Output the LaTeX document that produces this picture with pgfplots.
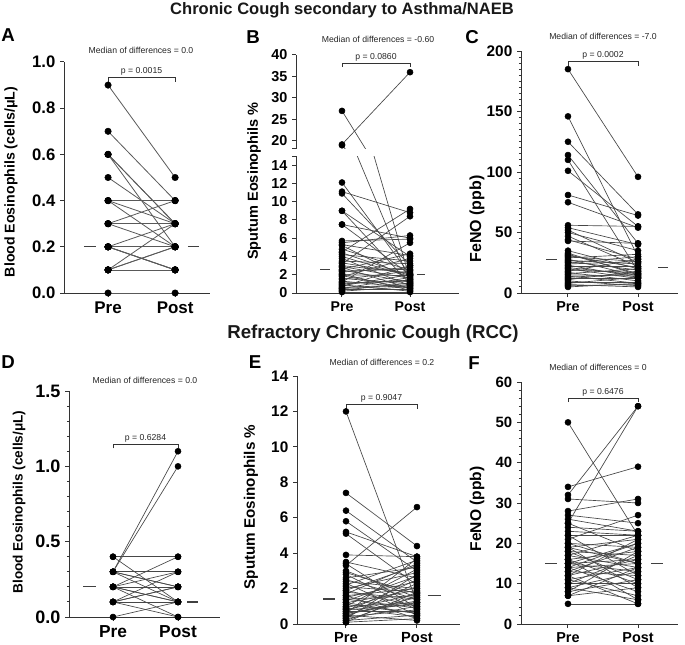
\documentclass[border=0pt]{standalone}
\usepackage{pgfplots}
\pgfplotsset{compat=1.18}
\usepackage{pgfplotstable}
\usepackage{fontspec}
\setmainfont{Liberation Sans}
\newcommand\fs[1]{\fontsize{#1}{#1}\selectfont}

\pgfplotstableread{
pre post
0.9 0.5
0.7 0.4
0.6 0.3
0.6 0.2
0.6 0.3
0.5 0.3
0.4 0.4
0.4 0.3
0.4 0.2
0.3 0.4
0.3 0.3
0.3 0.2
0.3 0.3
0.2 0.2
0.2 0.1
0.2 0.1
0.2 0.2
0.2 0.3
0.1 0.2
0.1 0.3
0.1 0.1
0.1 0.1
0.2 0.2
0.0 0.0
0.1 0.2
0.2 0.1
}\tabA

\pgfplotstableread{
pre post
27 1.5
19.2 36
19 1.2
12.1 2.0
11.1 8.8
10.9 3.0
9.0 4.0
9.0 1.0
7.5 6.0
7.5 2.0
5.7 5.9
5.5 6.3
5.2 1.5
4.8 2.5
4.5 9.2
4.2 3.5
4.0 1.8
3.8 0.8
3.5 3.2
3.2 8.4
3.0 2.2
2.9 1.6
2.8 0.5
2.6 4.3
2.5 1.2
2.3 2.8
2.1 0.3
2.0 1.9
1.8 3.8
1.6 1.0
1.5 2.4
1.3 0.6
1.2 5.5
1.0 1.4
0.9 0.2
0.8 2.0
0.7 3.0
0.6 0.9
0.5 1.7
0.4 0.4
0.3 1.1
0.2 0.7
0.1 0.1
3.3 2.1
4.4 1.9
2.4 2.6
1.1 1.3
5.3 4.1
0.5 0.8
1.9 0.5
}\tabB

\pgfplotstableread{
pre post
185 96
146 30
125 65
114 41
110 18
101 55
81 64
75 54
56 55
54 40
52 25
50 35
47 22
44 28
43 41
35 20
32 16
30 26
29 32
28 14
27 24
26 19
25 30
23 13
22 22
21 15
20 12
19 17
18 28
17 10
16 20
15 14
14 8
13 16
12 12
11 18
10 6
9 9
8 13
7 5
6 7
5 8
24 26
31 21
33 15
}\tabC

\pgfplotstableread{
pre post
0.3 1.1
0.3 1.0
0.4 0.4
0.4 0.1
0.3 0.3
0.3 0.2
0.3 0.1
0.2 0.4
0.2 0.2
0.2 0.2
0.2 0.1
0.2 0.0
0.2 0.3
0.1 0.1
0.1 0.1
0.1 0.2
0.1 0.3
0.1 0.0
0.0 0.1
0.2 0.1
0.1 0.2
0.3 0.2
}\tabD

\pgfplotstableread{
pre post
12.0 1.2
7.4 4.4
6.4 3.5
5.8 3.0
5.2 3.8
5.1 2.2
3.9 3.8
3.5 2.6
3.3 6.6
3.0 1.5
2.8 0.8
2.6 3.2
2.4 2.0
2.3 0.5
2.2 3.6
2.1 1.8
2.0 2.9
1.9 1.0
1.8 1.4
1.7 3.4
1.6 0.3
1.5 2.4
1.4 1.6
1.4 0.9
1.3 2.7
1.2 1.9
1.1 0.6
1.0 3.1
1.0 1.2
0.9 2.1
0.9 0.4
0.8 1.7
0.8 1.1
0.7 2.5
0.7 0.7
0.6 1.3
0.6 3.7
0.5 0.2
0.5 1.5
0.4 2.3
0.4 0.8
0.3 1.0
0.3 2.8
0.2 0.5
0.2 1.6
0.1 0.3
0.1 1.8
2.5 1.4
1.6 2.0
3.4 0.9
2.9 1.7
1.9 3.3
1.2 0.6
0.6 1.2
}\tabE

\pgfplotstableread{
pre post
50 22
34 39
32 54
25 54
31 30
28 31
27 25
25 18
24 23
23 22
22 22
22 12
21 27
20 15
20 19
19 9
19 21
18 17
18 11
17 22
17 14
16 6
16 18
15 16
15 13
15 20
14 15
14 8
13 19
13 12
12 21
12 16
11 14
11 7
10 17
10 10
9 13
9 6
8 18
8 11
7 9
7 14
5 5
26 23
14 20
12 5
16 10
19 15
}\tabF

\pgfplotsset{
  pp/.style={
    scale only axis, anchor=south west,
    axis x line*=bottom, axis y line*=left,
    axis line style={-, draw=black!80, line width=0.75pt},
    tick style={draw=black!80, line width=0.75pt},
    tick align=outside, major tick length=3pt, minor tick length=1.6pt,
    xtick={0,1}, xticklabels={Pre,Post},
    clip=false,
  },
  pairs/.style={-, draw=black!72, line width=0.5pt, no markers,
    quiver={u=1, v=\thisrow{post}-\thisrow{pre}}},
  dots/.style={only marks, mark=*, mark size=2.25pt, draw=black, fill=black},
  med/.style={draw=black!75, line width=0.9pt, no markers},
}
\tikzset{
  brk/.style={draw=black!80, line width=0.5pt},
  ptxt/.style={font=\fs{6.5}, text=black!85, anchor=south, inner sep=1.2pt},
}

\begin{document}
\begin{tikzpicture}
\useasboundingbox (0,0) rectangle (513.75pt,483pt);

% titles
\node[font=\bfseries\fs{12.4}, text=black!90] at (256.5pt,475.4pt) {Chronic Cough secondary to Asthma/NAEB};
\node[font=\bfseries\fs{14}, text=black!90] at (279.75pt,232.9pt) {Refractory Chronic Cough (RCC)};

% panel letters
\node[font=\bfseries\fs{14}] at (6pt,456.75pt) {A};
\node[font=\bfseries\fs{14}] at (189.75pt,455.25pt) {B};
\node[font=\bfseries\fs{14}] at (354pt,455.25pt) {C};
\node[font=\bfseries\fs{14}] at (6pt,211.5pt) {D};
\node[font=\bfseries\fs{14}] at (191.25pt,211.5pt) {E};
\node[font=\bfseries\fs{14}] at (355.5pt,210.75pt) {F};

% y labels
\node[font=\bfseries\fs{10.6}, rotate=90] at (8.25pt,346.5pt) {Blood Eosinophils (cells/μL)};
\node[font=\bfseries\fs{10.9}, rotate=90] at (190.5pt,347.25pt) {Sputum Eosinophils \%};
\node[font=\bfseries\fs{12}, rotate=90] at (357.75pt,318.75pt) {FeNO (ppb)};
\node[font=\bfseries\fs{10.2}, rotate=90] at (14.25pt,106.5pt) {Blood Eosinophils (cells/μL)};
\node[font=\bfseries\fs{11.4}, rotate=90] at (188.25pt,102.75pt) {Sputum Eosinophils \%};
\node[font=\bfseries\fs{11.7}, rotate=90] at (357.75pt,101.25pt) {FeNO (ppb)};

% median of differences
\node[font=\fs{6.5}, text=black!85] at (105.75pt,445.5pt) {Median of differences = 0.0};
\node[font=\fs{6.5}, text=black!85] at (283.5pt,453.75pt) {Median of differences = -0.60};
\node[font=\fs{6.5}, text=black!85] at (452.25pt,456pt) {Median of differences = -7.0};
\node[font=\fs{6.5}, text=black!85] at (108.75pt,198pt) {Median of differences = 0.0};
\node[font=\fs{6.5}, text=black!85] at (286.5pt,211.5pt) {Median of differences = 0.2};
\node[font=\fs{6.5}, text=black!85] at (448.5pt,207.75pt) {Median of differences = 0};

% panel B significance bracket
\draw[brk] (256.5pt,433.1pt) -- (256.5pt,435.75pt) -- (307.5pt,435.75pt) -- (307.5pt,433.1pt);
\node[ptxt] at (282pt,435.75pt) {p = 0.0860};

% ---------- A ----------
\begin{axis}[pp, at={(48pt,263.25pt)}, width=109.5pt, height=173.25pt,
  xmin=-0.657, xmax=1.52, ymin=0, ymax=1,
  ytick={0,0.2,0.4,0.6,0.8,1}, yticklabels={0.0,0.2,0.4,0.6,0.8,1.0},
  yticklabel style={font=\bfseries\fs{12.5}},
  xticklabel style={font=\bfseries\fs{12.7}}]
\addplot[pairs, line width=0.6pt, draw=black!65] table[x expr=0, y=pre] {\tabA};
\addplot[dots, mark size=2.4pt] table[x expr=0, y=pre] {\tabA};
\addplot[dots, mark size=2.4pt] table[x expr=1, y=post] {\tabA};
\addplot[med] coordinates {(-0.36,0.2) (-0.18,0.2)};
\addplot[med] coordinates {(1.19,0.2) (1.36,0.2)};
\draw[brk] (axis cs:0,0.915) -- (axis cs:0,0.935) -- (axis cs:1,0.935) -- (axis cs:1,0.915);
\node[ptxt] at (axis cs:0.5,0.935) {p = 0.0015};
\end{axis}

% ---------- B lower ----------
\begin{axis}[pp, at={(222pt,263.25pt)}, width=122.25pt, height=102.75pt,
  clip=true,
  xmin=-0.676, xmax=1.72, ymin=0, ymax=15,
  ytick={0,2,4,6,8,10,12,14}, yticklabels={0,2,4,6,8,10,12,14},
  extra y ticks={15}, extra y tick labels={},
  yticklabel style={font=\bfseries\fs{10.8}},
  xticklabel style={font=\bfseries\fs{10.6}}]
\addplot[pairs] table[x expr=0, y=pre] {\tabB};
\addplot[dots, restrict y to domain=0:15.5] table[x expr=0, y=pre] {\tabB};
\addplot[dots, restrict y to domain=0:15.5] table[x expr=1, y=post] {\tabB};
\addplot[med] coordinates {(-0.32,2.6) (-0.18,2.6)};
\addplot[med] coordinates {(1.10,2.0) (1.22,2.0)};
\end{axis}

% ---------- B upper ----------
\begin{axis}[pp, at={(222pt,371.25pt)}, width=122.25pt, height=70.5pt,
  clip=true, axis x line=none,
  xmin=-0.676, xmax=1.72, ymin=18.14, ymax=40,
  ytick={20,25,30,35,40}, yticklabels={20,25,30,35,40},
  extra y ticks={18.14}, extra y tick labels={},
  yticklabel style={font=\bfseries\fs{10.8}}]
\addplot[pairs] table[x expr=0, y=pre] {\tabB};
\addplot[dots, restrict y to domain=17.5:41] table[x expr=0, y=pre] {\tabB};
\addplot[dots, restrict y to domain=17.5:41] table[x expr=1, y=post] {\tabB};
\end{axis}

% ---------- C ----------
\begin{axis}[pp, at={(390.75pt,263.25pt)}, width=117.75pt, height=181.5pt,
  xmin=-0.671, xmax=1.571, ymin=0, ymax=200,
  ytick={0,50,100,150,200}, yticklabels={0,50,100,150,200},
  minor y tick num=9,
  yticklabel style={font=\bfseries\fs{11.5}},
  xticklabel style={font=\bfseries\fs{10.8}}]
\addplot[pairs] table[x expr=0, y=pre] {\tabC};
\addplot[dots] table[x expr=0, y=pre] {\tabC};
\addplot[dots] table[x expr=1, y=post] {\tabC};
\addplot[med] coordinates {(-0.31,27.8) (-0.16,27.8)};
\addplot[med] coordinates {(1.29,20.9) (1.43,20.9)};
\draw[brk] (axis cs:0,188) -- (axis cs:0,191.7) -- (axis cs:1,191.7) -- (axis cs:1,188);
\node[ptxt] at (axis cs:0.5,191.7) {p = 0.0002};
\end{axis}

% ---------- D ----------
\begin{axis}[pp, at={(51.75pt,20.25pt)}, width=113.25pt, height=169.5pt,
  xmin=-0.677, xmax=1.646, ymin=0, ymax=1.5,
  ytick={0,0.5,1,1.5}, yticklabels={0.0,0.5,1.0,1.5},
  minor y tick num=4,
  yticklabel style={font=\bfseries\fs{13.5}},
  xticklabel style={font=\bfseries\fs{13}}]
\addplot[pairs] table[x expr=0, y=pre] {\tabD};
\addplot[dots] table[x expr=0, y=pre] {\tabD};
\addplot[dots] table[x expr=1, y=post] {\tabD};
\addplot[med] coordinates {(-0.46,0.2) (-0.26,0.2)};
\addplot[med] coordinates {(1.14,0.1) (1.31,0.1)};
\draw[brk] (axis cs:0,1.12) -- (axis cs:0,1.145) -- (axis cs:1,1.145) -- (axis cs:1,1.12);
\node[ptxt] at (axis cs:0.5,1.145) {p = 0.6284};
\end{axis}

% ---------- E ----------
\begin{axis}[pp, at={(222.75pt,15pt)}, width=122.25pt, height=186pt,
  xmin=-0.69, xmax=1.606, ymin=0, ymax=14,
  ytick={0,2,4,6,8,10,12,14}, yticklabels={0,2,4,6,8,10,12,14},
  yticklabel style={font=\bfseries\fs{11.5}},
  xticklabel style={font=\bfseries\fs{11}}]
\addplot[pairs] table[x expr=0, y=pre] {\tabE};
\addplot[dots] table[x expr=0, y=pre] {\tabE};
\addplot[dots] table[x expr=1, y=post] {\tabE};
\addplot[med] coordinates {(-0.32,1.41) (-0.15,1.41)};
\addplot[med] coordinates {(1.15,1.6) (1.34,1.6)};
\draw[brk] (axis cs:0,12.15) -- (axis cs:0,12.4) -- (axis cs:1,12.4) -- (axis cs:1,12.15);
\node[ptxt] at (axis cs:0.5,12.4) {p = 0.9047};
\end{axis}

% ---------- F ----------
\begin{axis}[pp, at={(390.75pt,15pt)}, width=117.75pt, height=181.5pt,
  xmin=-0.671, xmax=1.571, ymin=0, ymax=60,
  ytick={0,10,20,30,40,50,60}, yticklabels={0,10,20,30,40,50,60},
  minor y tick num=4,
  yticklabel style={font=\bfseries\fs{11.2}},
  xticklabel style={font=\bfseries\fs{10.8}}]
\addplot[pairs] table[x expr=0, y=pre] {\tabF};
\addplot[dots] table[x expr=0, y=pre] {\tabF};
\addplot[dots] table[x expr=1, y=post] {\tabF};
\addplot[med] coordinates {(-0.33,15.1) (-0.16,15.1)};
\addplot[med] coordinates {(1.19,15) (1.36,15)};
\draw[brk] (axis cs:0,55) -- (axis cs:0,56) -- (axis cs:1,56) -- (axis cs:1,55);
\node[ptxt] at (axis cs:0.5,56) {p = 0.6476};
\end{axis}
\end{tikzpicture}
\end{document}
